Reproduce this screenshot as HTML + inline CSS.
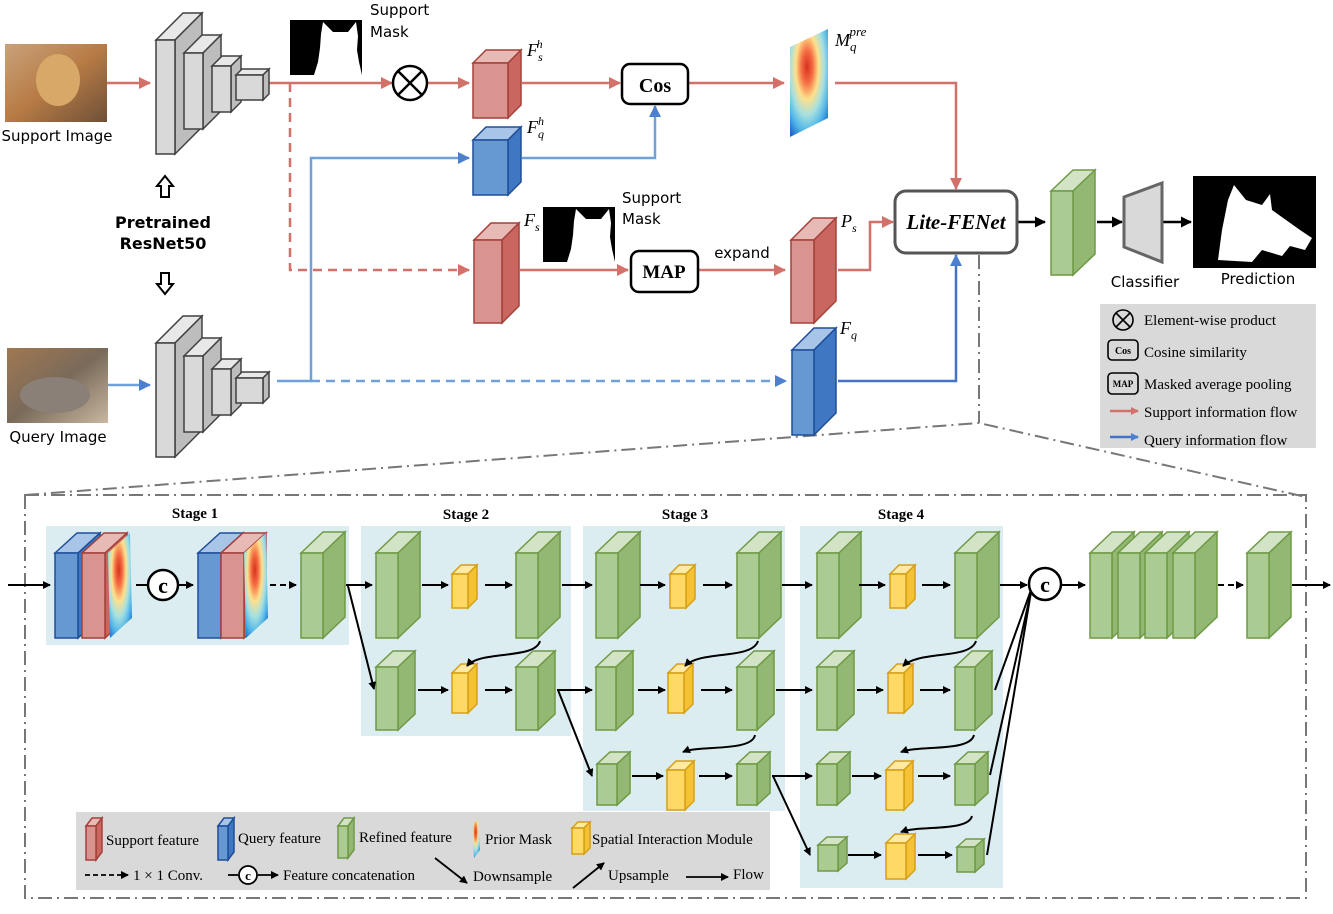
<!DOCTYPE html>
<html><head><meta charset="utf-8">
<style>
html,body{margin:0;padding:0;background:#fff;}
svg{display:block;}
.sans{font-family:"DejaVu Sans","Liberation Sans",sans-serif;}
.serif{font-family:"Liberation Serif",serif;}
</style></head>
<body>
<svg id="s" width="1333" height="914" viewBox="0 0 1333 914" xmlns="http://www.w3.org/2000/svg">
<defs>
<marker id="ar" markerWidth="8" markerHeight="8" refX="7" refY="4" orient="auto" markerUnits="userSpaceOnUse"><path d="M0,0 L8,4 L0,8 z" fill="#d2706a"/></marker>
<marker id="ab" markerWidth="8" markerHeight="8" refX="7" refY="4" orient="auto" markerUnits="userSpaceOnUse"><path d="M0,0 L8,4 L0,8 z" fill="#4d7fcf"/></marker>
<marker id="ak" markerWidth="8" markerHeight="8" refX="7" refY="4" orient="auto" markerUnits="userSpaceOnUse"><path d="M0,0 L8,4 L0,8 z" fill="#000"/></marker>
<marker id="ar2" markerWidth="12" markerHeight="12" refX="11" refY="6" orient="auto" markerUnits="userSpaceOnUse"><path d="M0,0 L12,6 L0,12 z" fill="#d2706a"/></marker>
<marker id="ab2" markerWidth="12" markerHeight="12" refX="11" refY="6" orient="auto" markerUnits="userSpaceOnUse"><path d="M0,0 L12,6 L0,12 z" fill="#4d7fcf"/></marker>
<marker id="ak2" markerWidth="11" markerHeight="11" refX="10" refY="5.5" orient="auto" markerUnits="userSpaceOnUse"><path d="M0,0 L11,5.5 L0,11 z" fill="#000"/></marker>
<radialGradient id="heat" cx="0.45" cy="0.35" r="0.75">
<stop offset="0" stop-color="#d7301f"/><stop offset="0.2" stop-color="#f46d43"/><stop offset="0.4" stop-color="#fee08b"/><stop offset="0.6" stop-color="#a6e0e0"/><stop offset="0.8" stop-color="#4fb5e8"/><stop offset="1" stop-color="#2166c4"/>
</radialGradient>
<linearGradient id="cat1" x1="0" y1="0" x2="1" y2="1"><stop offset="0" stop-color="#c9a27a"/><stop offset="0.5" stop-color="#b77b45"/><stop offset="1" stop-color="#6e5038"/></linearGradient>
<linearGradient id="cat2" x1="0" y1="0" x2="1" y2="1"><stop offset="0" stop-color="#a07850"/><stop offset="0.5" stop-color="#7a6a5a"/><stop offset="1" stop-color="#c8b8a0"/></linearGradient>
</defs>

<rect x="5" y="44" width="102" height="78" fill="url(#cat1)"/>
<ellipse cx="58" cy="80" rx="22" ry="26" fill="#d8a868"/>
<rect x="7" y="348" width="101" height="75" fill="url(#cat2)"/>
<ellipse cx="55" cy="395" rx="35" ry="18" fill="#8a8078"/>
<text x="57" y="141" class="sans" font-size="15" text-anchor="middle">Support Image</text>
<text x="58" y="442" class="sans" font-size="15" text-anchor="middle">Query Image</text>
<text x="163" y="228" class="sans" font-size="16" font-weight="bold" text-anchor="middle">Pretrained</text>
<text x="163" y="249" class="sans" font-size="16" font-weight="bold" text-anchor="middle">ResNet50</text>
<path d="M165,176 L157,186 L161,186 L161,197 L169,197 L169,186 L173,186 Z" fill="#fff" stroke="#000" stroke-width="2"/>
<path d="M165,294 L157,284 L161,284 L161,273 L169,273 L169,284 L173,284 Z" fill="#fff" stroke="#000" stroke-width="2"/>

<rect x="290" y="20" width="72" height="55" fill="#000"/>
<path d="M314,75 L318,62 L320,48 L321,34 L323,22 L333,32 L348,32 L356,22 L358,36 L357,50 L359,62 L362,75 Z" fill="#fff"/>
<text x="370" y="15" class="sans" font-size="15">Support</text>
<text x="370" y="37" class="sans" font-size="15">Mask</text>
<rect x="543" y="207" width="72" height="55" fill="#000"/>
<path d="M567,262 L571,249 L573,235 L574,221 L576,209 L586,219 L601,219 L609,209 L611,223 L610,237 L612,249 L615,262 Z" fill="#fff"/>
<text x="622" y="203" class="sans" font-size="15">Support</text>
<text x="622" y="224" class="sans" font-size="15">Mask</text>

<g fill="none" stroke-width="2.5">
<line x1="107" y1="83" x2="150" y2="83" stroke="#d2706a" marker-end="url(#ar2)"/>
<line x1="108" y1="385" x2="150" y2="385" stroke="#6fa0d8" marker-end="url(#ab2)"/>
<line x1="268" y1="83" x2="392" y2="83" stroke="#d2706a" marker-end="url(#ar2)"/>
<line x1="427" y1="83" x2="469" y2="83" stroke="#d2706a" marker-end="url(#ar2)"/>
<line x1="522" y1="83" x2="620" y2="83" stroke="#d2706a" marker-end="url(#ar2)"/>
<line x1="688" y1="83" x2="784" y2="83" stroke="#d2706a" marker-end="url(#ar2)"/>
<polyline points="835,83 956,83 956,189" stroke="#d2706a" marker-end="url(#ar2)"/>
<polyline points="290,83 290,270 469,270" stroke="#d2706a" stroke-dasharray="9,6" marker-end="url(#ar2)"/>
<line x1="520" y1="270" x2="628" y2="270" stroke="#d2706a" marker-end="url(#ar2)"/>
<line x1="698" y1="270" x2="785" y2="270" stroke="#d2706a" marker-end="url(#ar2)"/>
<polyline points="838,270 870,270 870,222 893,222" stroke="#d2706a" marker-end="url(#ar2)"/>
<polyline points="277,381 311,381 311,158 469,158" stroke="#6fa0d8" marker-end="url(#ab2)"/>
<polyline points="522,158 655,158 655,106" stroke="#6fa0d8" marker-end="url(#ab2)"/>
<line x1="311" y1="381" x2="786" y2="381" stroke="#6fa0d8" stroke-dasharray="9,6" marker-end="url(#ab2)"/>
<polyline points="838,381 956,381 956,255" stroke="#4472c4" marker-end="url(#ab2)"/>
<line x1="1017" y1="222" x2="1045" y2="222" stroke="#000" marker-end="url(#ak2)"/>
<line x1="1097" y1="222" x2="1122" y2="222" stroke="#000" marker-end="url(#ak2)"/>
<line x1="1163" y1="222" x2="1191" y2="222" stroke="#000" marker-end="url(#ak2)"/>
</g>
<circle cx="410" cy="83" r="17" fill="#fff" stroke="#000" stroke-width="2.5"/>
<line x1="398" y1="71" x2="422" y2="95" stroke="#000" stroke-width="2.5"/>
<line x1="422" y1="71" x2="398" y2="95" stroke="#000" stroke-width="2.5"/>
<rect x="622" y="64" width="66" height="40" rx="8" fill="#fff" stroke="#000" stroke-width="2.5"/>
<text x="655" y="92" class="serif" font-size="20" font-weight="bold" text-anchor="middle">Cos</text>
<rect x="631" y="251" width="67" height="41" rx="8" fill="#fff" stroke="#000" stroke-width="2.5"/>
<text x="664" y="278" class="serif" font-size="19" font-weight="bold" text-anchor="middle">MAP</text>
<text x="742" y="258" class="sans" font-size="15" text-anchor="middle">expand</text>
<rect x="895" y="191" width="122" height="62" rx="11" fill="#fff" stroke="#555" stroke-width="3"/>
<text x="956" y="229" class="serif" font-size="21" font-weight="bold" font-style="italic" text-anchor="middle">Lite-FENet</text>
<polygon points="790,47 828,29 828,118 790,137" fill="url(#heat)"/>
<polygon points="1124,197 1162,183 1162,262 1124,247" fill="#d9d9d9" stroke="#666" stroke-width="3"/>
<rect x="1193" y="176" width="123" height="92" fill="#000"/>
<path d="M1218,260 L1222,230 L1228,200 L1234,185 L1246,200 L1262,205 L1270,194 L1272,210 L1300,230 L1312,238 L1305,250 L1290,246 L1282,256 L1262,250 L1252,262 Z" fill="#fff"/>
<text x="1145" y="287" class="sans" font-size="15" text-anchor="middle">Classifier</text>
<text x="1258" y="284" class="sans" font-size="15" text-anchor="middle">Prediction</text>

<g class="serif" font-style="italic" font-size="18">
<text x="527" y="56">F<tspan font-size="12" dy="5">s</tspan><tspan font-size="12" dx="-6" dy="-13">h</tspan></text>
<text x="527" y="133">F<tspan font-size="12" dy="5">q</tspan><tspan font-size="12" dx="-6" dy="-13">h</tspan></text>
<text x="524" y="226">F<tspan font-size="12" dy="5">s</tspan></text>
<text x="835" y="46">M<tspan font-size="13" dy="5">q</tspan><tspan font-size="13" dx="-7" dy="-15">pre</tspan></text>
<text x="841" y="227">P<tspan font-size="12" dy="5">s</tspan></text>
<text x="840" y="334">F<tspan font-size="12" dy="5">q</tspan></text>
</g>

<rect x="1100" y="304" width="216" height="144" fill="#d9d9d9"/>
<circle cx="1123" cy="320" r="10" fill="none" stroke="#000" stroke-width="1.6"/>
<line x1="1116" y1="313" x2="1130" y2="327" stroke="#000" stroke-width="1.6"/>
<line x1="1130" y1="313" x2="1116" y2="327" stroke="#000" stroke-width="1.6"/>
<rect x="1108" y="340" width="30" height="20" rx="4" fill="none" stroke="#000" stroke-width="1.6"/>
<text x="1123" y="354" class="serif" font-size="10" font-weight="bold" text-anchor="middle">Cos</text>
<rect x="1108" y="373" width="30" height="21" rx="4" fill="none" stroke="#000" stroke-width="1.6"/>
<text x="1123" y="387" class="serif" font-size="9" font-weight="bold" text-anchor="middle">MAP</text>
<line x1="1110" y1="411" x2="1138" y2="411" stroke="#d2706a" stroke-width="2.5" marker-end="url(#ar)"/>
<line x1="1110" y1="437" x2="1138" y2="437" stroke="#4472c4" stroke-width="2.5" marker-end="url(#ab)"/>
<g class="serif" font-size="15">
<text x="1144" y="325">Element-wise product</text>
<text x="1144" y="357">Cosine similarity</text>
<text x="1144" y="389">Masked average pooling</text>
<text x="1144" y="417">Support information flow</text>
<text x="1144" y="445">Query information flow</text>
</g>

<g fill="none" stroke="#777" stroke-width="2" stroke-dasharray="14,5,2,5">
<line x1="979" y1="255" x2="979" y2="423"/>
<polyline points="25,495 979,423 1306,497"/>
<rect x="25" y="495" width="1281" height="403"/>
</g>

<g fill="#dcedf2">
<rect x="46" y="526" width="303" height="119"/>
<rect x="361" y="526" width="210" height="210"/>
<rect x="583" y="526" width="202" height="285"/>
<rect x="800" y="526" width="203" height="362"/>
</g>
<rect x="76" y="812" width="694" height="78" fill="#d9d9d9"/>
<g class="serif" font-size="15" font-weight="bold" text-anchor="middle">
<text x="195" y="518">Stage 1</text>
<text x="466" y="519">Stage 2</text>
<text x="685" y="519">Stage 3</text>
<text x="901" y="519">Stage 4</text>
</g>

<g id="cubes"></g>

<polygon points="108,553 130,533 132,618 110,638" fill="url(#heat)"/>
<polygon points="244,553 266,533 268,618 246,638" fill="url(#heat)"/>

<g fill="none" stroke="#000" stroke-width="2">
<line x1="8" y1="585" x2="50" y2="585" marker-end="url(#ak)"/>
<line x1="136" y1="585" x2="147" y2="585"/>
<line x1="178" y1="585" x2="193" y2="585" marker-end="url(#ak)"/>
<line x1="270" y1="585" x2="296" y2="585" stroke-dasharray="6,4" marker-end="url(#ak)"/>
<polyline points="346,585 372,585"  marker-end="url(#ak)"/>
<line x1="348" y1="586" x2="374" y2="689" marker-end="url(#ak)"/>
<line x1="422" y1="585" x2="448" y2="585" marker-end="url(#ak)"/>
<line x1="485" y1="585" x2="512" y2="585" marker-end="url(#ak)"/>
<line x1="562" y1="585" x2="592" y2="585" marker-end="url(#ak)"/>
<line x1="418" y1="690" x2="448" y2="690" marker-end="url(#ak)"/>
<line x1="485" y1="690" x2="512" y2="690" marker-end="url(#ak)"/>
<line x1="557" y1="690" x2="592" y2="690" marker-end="url(#ak)"/>
<line x1="558" y1="690" x2="592" y2="776" marker-end="url(#ak)"/>
<path d="M540,641 C535,660 480,650 467,666" marker-end="url(#ak)"/>
<line x1="640" y1="585" x2="665" y2="585" marker-end="url(#ak)"/>
<line x1="703" y1="585" x2="732" y2="585" marker-end="url(#ak)"/>
<line x1="782" y1="585" x2="812" y2="585" marker-end="url(#ak)"/>
<line x1="638" y1="690" x2="665" y2="690" marker-end="url(#ak)"/>
<line x1="701" y1="690" x2="732" y2="690" marker-end="url(#ak)"/>
<line x1="776" y1="690" x2="812" y2="690" marker-end="url(#ak)"/>
<path d="M758,641 C752,660 700,650 685,666" marker-end="url(#ak)"/>
<line x1="632" y1="776" x2="663" y2="776" marker-end="url(#ak)"/>
<line x1="699" y1="776" x2="732" y2="776" marker-end="url(#ak)"/>
<line x1="772" y1="776" x2="812" y2="776" marker-end="url(#ak)"/>
<line x1="773" y1="776" x2="810" y2="855" marker-end="url(#ak)"/>
<path d="M755,735 C752,752 700,745 683,752" marker-end="url(#ak)"/>
<line x1="859" y1="585" x2="885" y2="585" marker-end="url(#ak)"/>
<line x1="922" y1="585" x2="950" y2="585" marker-end="url(#ak)"/>
<line x1="857" y1="690" x2="883" y2="690" marker-end="url(#ak)"/>
<line x1="920" y1="690" x2="950" y2="690" marker-end="url(#ak)"/>
<line x1="852" y1="776" x2="881" y2="776" marker-end="url(#ak)"/>
<line x1="918" y1="776" x2="950" y2="776" marker-end="url(#ak)"/>
<line x1="848" y1="855" x2="881" y2="855" marker-end="url(#ak)"/>
<line x1="918" y1="855" x2="952" y2="855" marker-end="url(#ak)"/>
<path d="M976,641 C970,660 920,650 903,666" marker-end="url(#ak)"/>
<path d="M974,735 C970,752 920,745 901,752" marker-end="url(#ak)"/>
<path d="M972,816 C968,832 920,825 901,832" marker-end="url(#ak)"/>
<line x1="1000" y1="585" x2="1027" y2="585" marker-end="url(#ak)"/>
<line x1="995" y1="690" x2="1031" y2="590"/>
<line x1="990" y1="775" x2="1031" y2="592"/>
<line x1="987" y1="855" x2="1031" y2="592"/>
<line x1="1062" y1="585" x2="1085" y2="585" marker-end="url(#ak)"/>
<line x1="1218" y1="585" x2="1243" y2="585" stroke-dasharray="6,4" marker-end="url(#ak)"/>
<line x1="1292" y1="585" x2="1330" y2="585" marker-end="url(#ak)"/>
</g>
<circle cx="163" cy="585" r="15" fill="#fff" stroke="#000" stroke-width="2.5"/>
<text x="163" y="593" class="serif" font-size="22" font-weight="bold" text-anchor="middle">c</text>
<circle cx="1045" cy="584" r="16" fill="#fff" stroke="#000" stroke-width="2.5"/>
<text x="1045" y="592" class="serif" font-size="22" font-weight="bold" text-anchor="middle">c</text>

<polygon points="472,826 478,818 480,850 474,858" fill="url(#heat)"/>
<g class="serif" font-size="15">
<text x="106" y="845">Support feature</text>
<text x="238" y="843">Query feature</text>
<text x="359" y="842">Refined feature</text>
<text x="485" y="844">Prior Mask</text>
<text x="592" y="844">Spatial Interaction Module</text>
<text x="133" y="880">1 × 1 Conv.</text>
<text x="283" y="880">Feature concatenation</text>
<text x="473" y="881">Downsample</text>
<text x="608" y="880">Upsample</text>
<text x="733" y="879">Flow</text>
</g>
<g fill="none" stroke="#000" stroke-width="1.8">
<line x1="85" y1="875" x2="128" y2="875" stroke-dasharray="5,3" marker-end="url(#ak)"/>
<line x1="228" y1="875" x2="238" y2="875"/>
<line x1="258" y1="875" x2="278" y2="875" marker-end="url(#ak)"/>
<line x1="435" y1="858" x2="467" y2="883" marker-end="url(#ak)"/>
<line x1="573" y1="888" x2="604" y2="863" marker-end="url(#ak)"/>
<line x1="686" y1="877" x2="728" y2="877" marker-end="url(#ak)"/>
</g>
<circle cx="248" cy="875" r="9" fill="#fff" stroke="#000" stroke-width="1.8"/>
<text x="248" y="880" class="serif" font-size="13" font-weight="bold" text-anchor="middle">c</text>
</svg>
<script>
var C={gray:["#d9d9d9","#e8e8e8","#bdbdbd","#404040"],red:["#d99490","#e8bab6","#c9665f","#a4403a"],
blue:["#6699d1","#a8c5e8","#3f77c2","#1f4e99"],green:["#aacb92","#d3e3c6","#93b873","#6f9a45"],
yellow:["#ffd966","#ffe9a3","#f5c135","#d4a017"]};
var list=[
["gray",156,40,19,114,27,27],["gray",184,53,19,76,18,18],["gray",212,66,19,46,10,10],["gray",236,75,27,25,6,6],
["gray",156,343,19,114,27,27],["gray",184,356,19,76,18,18],["gray",212,369,19,46,10,10],["gray",236,378,27,25,6,6],
["red",473,63,35,55,13,13],["blue",473,140,35,55,13,13],["red",474,240,28,83,17,17],["red",791,240,23,83,22,22],["blue",792,350,22,85,22,22],
["green",1051,191,22,84,22,21],
["blue",55,553,23,85,22,20],["red",82,553,23,85,22,20],["blue",198,553,23,85,22,20],["red",221,553,23,85,22,20],
["green",301,553,22,85,22,21],
["green",376,553,22,85,22,21],["yellow",452,574,16,34,9,9],["green",516,553,22,85,22,21],
["green",376,667,22,63,17,16],["yellow",452,673,16,40,9,9],["green",516,667,22,63,17,16],
["green",596,553,22,85,22,21],["yellow",670,574,16,34,9,9],["green",737,553,22,85,22,21],
["green",596,667,20,63,17,16],["yellow",668,673,16,40,9,9],["green",737,667,20,63,17,16],
["green",597,764,20,41,13,12],["yellow",667,770,18,40,9,9],["green",737,764,20,41,13,12],
["green",817,553,22,85,22,21],["yellow",890,574,16,34,9,9],["green",955,553,22,85,22,21],
["green",817,667,20,63,17,16],["yellow",888,673,16,40,9,9],["green",955,667,20,63,17,16],
["green",817,764,20,41,13,12],["yellow",886,770,18,40,9,9],["green",955,764,20,41,13,12],
["green",818,845,20,26,9,8],["yellow",886,843,20,36,9,9],["green",957,847,18,25,9,8],
["green",1090,553,22,85,22,21],["green",1118,553,22,85,22,21],["green",1145,553,22,85,22,21],["green",1173,553,22,85,22,21],
["green",1247,553,22,85,22,21],
["red",86,826,10,34,6,8],["blue",218,826,10,34,6,8],["green",338,826,10,32,6,8],["yellow",572,828,12,26,6,6]
];
var g=document.getElementById("cubes"),h="";
list.forEach(function(c){var k=C[c[0]],x=c[1],y=c[2],w=c[3],hh=c[4],dx=c[5],dy=c[6];
h+='<polygon points="'+x+','+y+' '+(x+dx)+','+(y-dy)+' '+(x+w+dx)+','+(y-dy)+' '+(x+w)+','+y+'" fill="'+k[1]+'" stroke="'+k[3]+'" stroke-width="1.5"/>';
h+='<polygon points="'+(x+w)+','+y+' '+(x+w+dx)+','+(y-dy)+' '+(x+w+dx)+','+(y+hh-dy)+' '+(x+w)+','+(y+hh)+'" fill="'+k[2]+'" stroke="'+k[3]+'" stroke-width="1.5"/>';
h+='<rect x="'+x+'" y="'+y+'" width="'+w+'" height="'+hh+'" fill="'+k[0]+'" stroke="'+k[3]+'" stroke-width="1.5"/>';});
g.innerHTML=h;
</script>
</body></html>
